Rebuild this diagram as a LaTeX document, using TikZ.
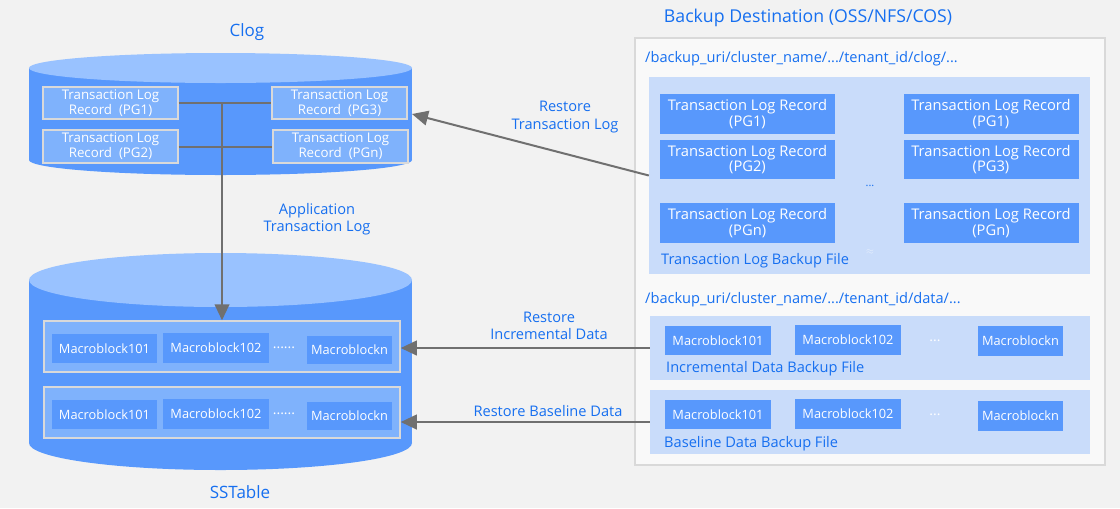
\documentclass[tikz,border=0pt]{standalone}
\usepackage{fontspec}
\setmainfont{Open Sans}
\usetikzlibrary{arrows.meta,positioning}

\definecolor{bgGray}{RGB}{242,242,242}
\definecolor{cylBody}{RGB}{88,152,252}
\definecolor{cylTop}{RGB}{153,194,255}
\definecolor{recFill}{RGB}{127,178,252}
\definecolor{edgeGray}{RGB}{217,217,217}
\definecolor{txtBlue}{RGB}{22,111,240}
\definecolor{panelBlue}{RGB}{201,220,250}
\definecolor{arrowGray}{RGB}{112,112,112}
\definecolor{destFill}{RGB}{249,249,249}

\tikzset{
  clogrec/.style={draw=edgeGray, line width=1.2pt, fill=recFill, text=white,
    minimum width=135, minimum height=32, inner sep=0pt, align=center,
    font=\fontsize{13.3}{15}\selectfont},
  mbbox/.style={fill=cylBody, text=white, minimum width=106, minimum height=29,
    inner sep=0pt, font=\fontsize{12.8}{15}\selectfont},
  tlrbox/.style={fill=cylBody, text=white, minimum width=175, minimum height=40,
    inner sep=0pt, align=center, font=\fontsize{14.7}{15.5}\selectfont},
  sstrow/.style={draw=edgeGray, line width=1.5pt, fill=recFill,
    minimum width=356, minimum height=51, inner sep=0pt},
  panel/.style={fill=panelBlue, minimum width=440, inner sep=0pt},
  bluetxt/.style={text=txtBlue, align=center, inner sep=0pt,
    font=\fontsize{14.6}{17.5}\selectfont},
  dots/.style={text=white, inner sep=0pt, font=\fontsize{14}{16}\selectfont},
  link/.style={draw=arrowGray, line width=1.5pt},
  restore/.style={link, -{Triangle[length=12,width=11]}}
}

\begin{document}
\begin{tikzpicture}[x=1pt, y=-1pt, scale=.75, transform shape]
        \fill[bgGray] (0,0) rectangle (1120,508);
        \useasboundingbox (0,0) rectangle (1120,508);

        % Clog cylinder
        \fill[cylBody] (220.5,160) ellipse [x radius=191.5, y radius=15];
        \fill[cylBody] (29,68) rectangle (412,160);
        \fill[cylTop] (220.5,68) ellipse [x radius=191.5, y radius=15];
        \coordinate (clogR) at (412,114);

        % SSTable cylinder
        \fill[cylBody] (220.5,443) ellipse [x radius=191.5, y radius=27];
        \fill[cylBody] (29,280) rectangle (412,443);
        \fill[cylTop] (220.5,280) ellipse [x radius=191.5, y radius=27];

        \node[bluetxt, font=\fontsize{17}{20}\selectfont] (clogtitle) at (247,32) {Clog};
        \node[bluetxt, font=\fontsize{17}{20}\selectfont] (ssttitle) at (240,492) {SSTable};

        \node[clogrec] (pg1) at (110.5,103) {Transaction Log\\Record~~(PG1)};
        \node[clogrec, minimum height=33] (pg2) at (110.5,146.5) {Transaction Log\\Record~~(PG2)};
        \node[clogrec] (pg3) at (339.5,103) {Transaction Log\\Record~~(PG3)};
        \node[clogrec, minimum height=33] (pgn) at (340.5,146.5) {Transaction Log\\Record~~(PGn)};

        \node[sstrow] (sst1) at (222,346.5) {};
        \node[sstrow] (sst2) at (222,412.5) {};
        \node[mbbox, minimum width=105] (smb1) at (104.5,348.5) {Macroblock101};
        \node[mbbox, minimum height=30] (smb2) at (216,348) {Macroblock102};
        \node[dots] (sdots1) at (284,348) {......};
        \node[mbbox, minimum width=85, minimum height=28] (smbn) at (349.5,350) {Macroblockn};
        \node[mbbox, minimum width=105] (tmb1) at (104.5,414.5) {Macroblock101};
        \node[mbbox, minimum height=30] (tmb2) at (216,414) {Macroblock102};
        \node[dots] (sdots2) at (284,414) {......};
        \node[mbbox, minimum width=85, minimum height=28] (tmbn) at (349.5,415.5) {Macroblockn};

        \draw[link] (pg1.east) -- (pg3.west);
        \draw[link] (pg2.east) -- (pgn.west);
        \draw[restore] (pg1.east -| sst1.north) -- (sst1.north);
        \node[bluetxt] (applylbl) at (317,219) {Application\\Transaction Log};

        % Backup destination
        \node[bluetxt, font=\fontsize{17.7}{20}\selectfont] (desttitle) at (808,18) {Backup Destination (OSS/NFS/COS)};
        \node[draw=edgeGray, line width=1.5pt, fill=destFill, minimum width=470, minimum height=427,
          inner sep=0pt] (dest) at (870,251.5) {};
        \node[bluetxt, anchor=west] (clogpath) at (645,59) {/backup\_uri/cluster\_name/.../tenant\_id/clog/...};
        \node[panel, minimum width=441, minimum height=197] (tlpanel) at (869.5,175.5) {};
        \node[tlrbox] (b1) at (747.5,114) {Transaction Log Record\\(PG1)};
        \node[tlrbox, minimum height=39] (b2) at (747.5,159.5) {Transaction Log Record\\(PG2)};
        \node[tlrbox] (bn) at (747.5,223) {Transaction Log Record\\(PGn)};
        \node[tlrbox] (c1) at (991,114) {Transaction Log Record\\(PG1)};
        \node[tlrbox, minimum height=39] (c3) at (991,159.5) {Transaction Log Record\\(PG3)};
        \node[tlrbox] (cn) at (991,223) {Transaction Log Record\\(PGn)};
        \node[bluetxt, font=\fontsize{11}{12}\selectfont] (tldots) at (870,186) {...};
        \node[text=white!60!panelBlue, inner sep=0pt] (tlwave) at (870,252) {$\approx$};
        \node[bluetxt, anchor=west] (tlfile) at (661,261) {Transaction Log Backup File};

        \node[bluetxt, anchor=west] (datapath) at (645,300) {/backup\_uri/cluster\_name/.../tenant\_id/data/...};
        \node[panel, minimum height=64] (incpanel) at (870,348) {};
        \node[panel, minimum height=64] (basepanel) at (870,422) {};
        \node[mbbox] (imb1) at (718,340.5) {Macroblock101};
        \node[mbbox, minimum height=30] (imb2) at (848,340) {Macroblock102};
        \node[dots] (idots) at (935,341) {...};
        \node[mbbox, minimum width=85, minimum height=30] (imbn) at (1020.5,341) {Macroblockn};
        \node[bluetxt, anchor=west] (incfile) at (666,369) {Incremental Data Backup File};
        \node[mbbox] (bmb1) at (718,414.5) {Macroblock101};
        \node[mbbox, minimum height=30] (bmb2) at (848,414) {Macroblock102};
        \node[dots] (bdots) at (935,415) {...};
        \node[mbbox, minimum width=85, minimum height=30] (bmbn) at (1020.5,415.5) {Macroblockn};
        \node[bluetxt, anchor=west] (basefile) at (664,444) {Baseline Data Backup File};

        % restore arrows
        \draw[restore] (tlpanel.west) -- (clogR);
        \node[bluetxt] (restlbl) at (565,117) {Restore\\Transaction Log};
        \draw[restore] (incpanel.west) -- (incpanel.west -| sst1.east);
        \node[bluetxt] (inclbl) at (549,326) {Restore\\Incremental Data};
        \draw[restore] (basepanel.west) -- (basepanel.west -| sst2.east);
        \node[bluetxt] (baselbl) at (548,411) {Restore Baseline Data};

    \end{tikzpicture}
\end{document}
